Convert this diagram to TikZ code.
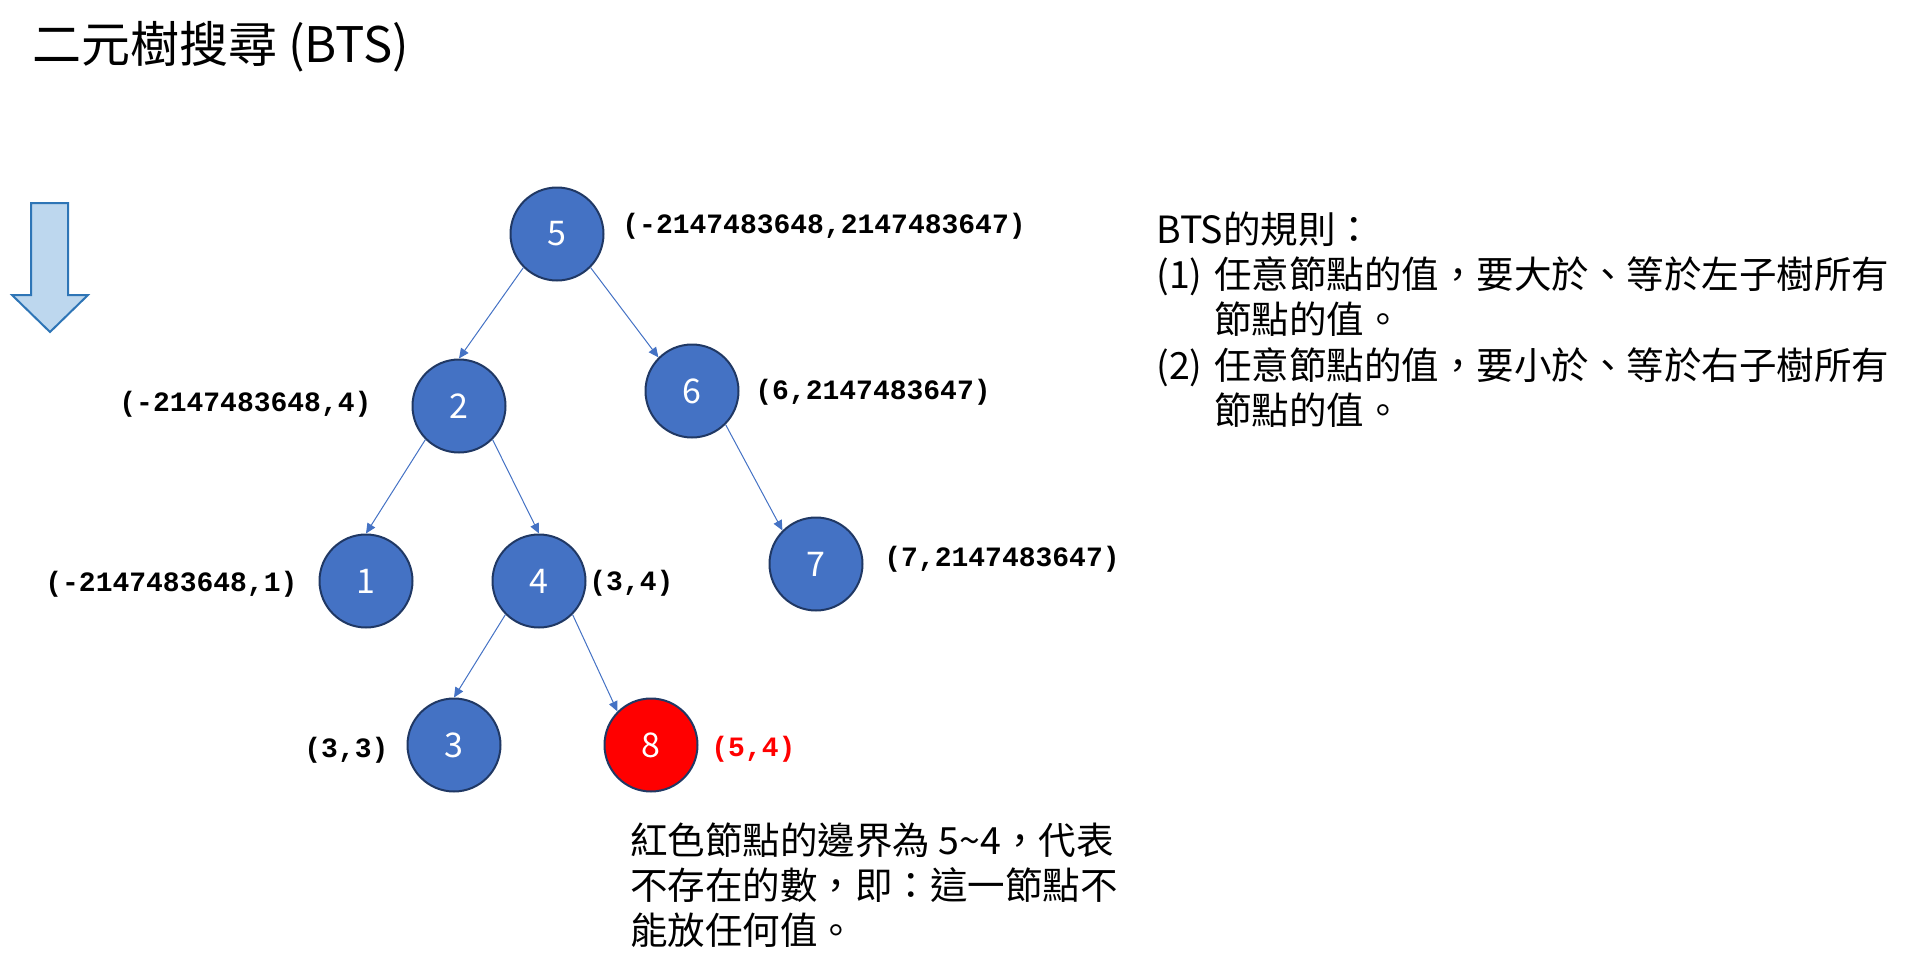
\documentclass[tikz,border=0pt]{standalone}
\usepackage{fontspec}
\usepackage{tikz}
\usetikzlibrary{arrows.meta}
\setmainfont{Noto Sans CJK TC}
\newfontfamily\codefont{Liberation Mono}
\definecolor{keyblue}{HTML}{4472C4}
\definecolor{keyrim}{HTML}{203864}
\definecolor{keyred}{HTML}{FF0000}
\definecolor{downfill}{HTML}{BDD7EE}
\definecolor{downline}{HTML}{2E75B6}

\begin{document}
\begin{tikzpicture}[x=0.5pt,y=-0.5pt,
	keynode/.style={circle, draw=keyrim, line width=1pt, fill=keyblue, minimum size=46.5pt, inner sep=0pt, text=white, font=\fontsize{17}{17}\selectfont},
	link/.style={-{Triangle[length=5pt,width=4.5pt]}, draw=keyblue, line width=0.5pt},
	bound/.style={anchor=west, inner sep=0pt, font=\codefont\bfseries\fontsize{14}{14}\selectfont},
	rulenote/.style={anchor=base west, inner sep=0pt, font=\fontsize{18.75}{18.75}\selectfont}]

	\useasboundingbox (0,0) rectangle (1924,975);

	% Title
	\node[anchor=base west, inner sep=0pt, font=\fontsize{24.5}{24.5}\selectfont] (title) at (32,62) {二元樹搜尋 (BTS)};

	% Down arrow
	\draw [draw=downline, fill=downfill, line width=1pt] (31,203) -- (68,203) -- (68,295) -- (88,295) -- (50,332) -- (12,295) -- (31,295) -- cycle;

	% Keys
	\node[keynode] (n5) at (557,234) {5};
	\node[keynode] (n2) at (459,406) {2};
	\node[keynode] (n6) at (692,391) {6};
	\node[keynode] (n1) at (366,581) {1};
	\node[keynode] (n4) at (539,581) {4};
	\node[keynode] (n7) at (816,564) {7};
	\node[keynode] (n3) at (454,745) {3};
	\node[keynode, fill=keyred] (n8) at (651,745) {8};

	% Links
	\draw [link] (n5.225) -- (n2.north);
	\draw [link] (n5.-45) -- (n6.135);
	\draw [link] (n2.225) -- (n1.north);
	\draw [link] (n2.-45) -- (n4.north);
	\draw [link] (n6.-45) -- (n7.135);
	\draw [link] (n4.225) -- (n3.north);
	\draw [link] (n4.-45) -- (n8.135);

	% Bounds
	\node[bound] (b5) at (622,226) {(-2147483648,2147483647)};
	\node[bound] (b2) at (119,404) {(-2147483648,4)};
	\node[bound] (b6) at (755,392) {(6,2147483647)};
	\node[bound] (b1) at (45,584) {(-2147483648,1)};
	\node[bound] (b4) at (589,583) {(3,4)};
	\node[bound] (b7) at (884,559) {(7,2147483647)};
	\node[bound] (b3) at (304,750) {(3,3)};
	\node[bound, text=keyred] (b8) at (711,749) {(5,4)};

	% Rules
	\node[rulenote] (rule0) at (1156,243) {BTS的規則：};
	\node[rulenote] (rule1) at (1156,288) {(1)};
	\node[rulenote] (rule1a) at (1214,288) {任意節點的值，要大於、等於左子樹所有};
	\node[rulenote] (rule1b) at (1214,333) {節點的值。};
	\node[rulenote] (rule2) at (1156,379) {(2)};
	\node[rulenote] (rule2a) at (1214,379) {任意節點的值，要小於、等於右子樹所有};
	\node[rulenote] (rule2b) at (1214,424) {節點的值。};

	% Red key note
	\node[rulenote] (red0) at (630,854) {紅色節點的邊界為 5\textasciitilde4，代表};
	\node[rulenote] (red1) at (630,899) {不存在的數，即：這一節點不};
	\node[rulenote] (red2) at (630,944) {能放任何值。};

\end{tikzpicture}
\end{document}
